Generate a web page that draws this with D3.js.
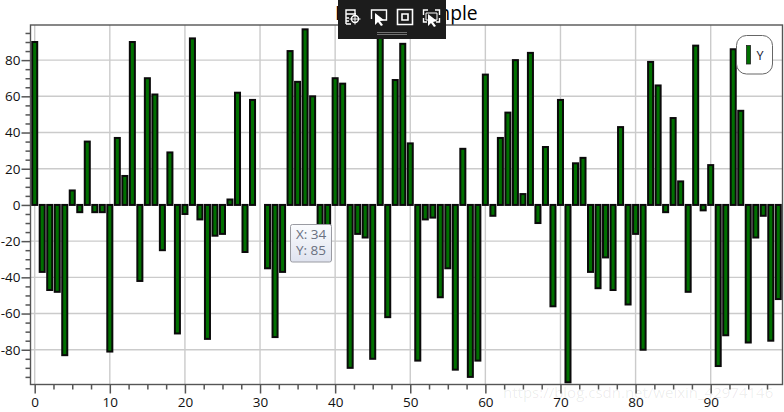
<!DOCTYPE html>
<html><head><meta charset="utf-8">
<script src="https://cdn.jsdelivr.net/npm/d3@7/dist/d3.min.js"></script>
<style>html,body{margin:0;padding:0;background:#fff}svg{display:block}text{font-family:"Open Sans","Noto Sans",sans-serif}</style>
</head><body><svg id="c" width="784" height="412"></svg>
<script>
const titleText = "Bar Plot Sample";
const seriesName = "Y";
const xTicks = [0,10,20,30,40,50,60,70,80,90];
const yTicks = [-80,-60,-40,-20,0,20,40,60,80];
const tooltipLines = ["X: 34","Y: 85"];
const watermark = "https://blog.csdn.net/weixin_42974146";
const values = [90,-37,-47,-48,-83,8,-4,35,-4,-4,
 -81,37,16,90,-42,70,61,-25,29,-71,
 -5,92,-8,-74,-17,-16,3,62,-26,58,
 0,-35,-73,-37,85,68,97,60,-12,-12,
 70,67,-90,-16,-18,-85,98,-62,69,89,
 34,-86,-8,-7,-51,-35,-91,31,-95,-86,
 72,-6,37,51,80,6,84,-10,32,-56,
 58,-98,23,26,-37,-46,-29,-47,43,-55,
 -16,-80,79,66,-4,48,13,-48,88,-3,
 22,-89,-72,86,52,-76,-18,-6,-75,-52];

const svg = d3.select("#c");
const L=30.5,R=782.5,T=25,B=384.5;
const x=d3.scaleLinear().domain([-0.56,99.56]).range([L,R]);
const y=d3.scaleLinear().domain([-99.2,99.4]).range([B,T]);
const grid="#cbcbcb";
// title
svg.append("text").attr("x",335).attr("y",20).attr("font-size",19.3).attr("fill","#000").text(titleText);
// grid
svg.append("g").selectAll("line").data(xTicks).join("line").attr("x1",d=>x(d)).attr("x2",d=>x(d)).attr("y1",T).attr("y2",B).attr("stroke",grid).attr("stroke-width",1.4);
svg.append("g").selectAll("line").data(yTicks.filter(d=>d!==0)).join("line").attr("x1",L).attr("x2",R).attr("y1",d=>y(d)).attr("y2",d=>y(d)).attr("stroke",grid).attr("stroke-width",1.4);
// bars
const barW=x(0.67)-x(0);
svg.append("g").selectAll("rect").data(values.map((v,i)=>({v,i})).filter(d=>d.v!==0)).join("rect")
 .attr("x",d=>x(d.i)-barW/2).attr("width",barW)
 .attr("y",d=>Math.min(y(d.v),y(0))).attr("height",d=>Math.abs(y(d.v)-y(0)))
 .attr("fill","#007000").attr("stroke","#0a0a0a").attr("stroke-width",2);
// axes
const axX=svg.append("g").attr("transform",`translate(0,${B})`).call(d3.axisBottom(x).tickValues(d3.range(0,100,2.5)).tickSize(5).tickFormat(d=>xTicks.includes(d)?d:""));
const axY=svg.append("g").attr("transform",`translate(${L},0)`).call(d3.axisLeft(y).tickValues(d3.range(-95,100,5)).tickSize(5).tickFormat(d=>yTicks.includes(d)?d:""));
[axX,axY].forEach(a=>{a.select(".domain").remove();a.selectAll("line").attr("stroke","#555").attr("stroke-width",1.5);a.selectAll("text").attr("font-size",13.5).attr("fill","#111");});
axX.selectAll(".tick").filter(d=>xTicks.includes(d)).select("line").attr("y2",9);
axY.selectAll(".tick").filter(d=>yTicks.includes(d)).select("line").attr("x2",-9);
axX.selectAll("text").attr("y",13);
axY.selectAll("text").attr("x",-10);
svg.append("rect").attr("x",L).attr("y",T).attr("width",R-L).attr("height",B-T).attr("fill","none").attr("stroke","#555").attr("stroke-width",1.4);
// legend
svg.append("rect").attr("x",736.5).attr("y",35.5).attr("width",36).attr("height",38.5).attr("rx",10).attr("fill","#fff").attr("stroke","#666");
svg.append("rect").attr("x",746.5).attr("y",45.5).attr("width",4).attr("height",18.5).attr("fill","#007000").attr("stroke","#222").attr("stroke-width",.8);
svg.append("text").attr("x",760).attr("y",60).attr("text-anchor","middle").attr("font-size",12.5).attr("fill","#223").text(seriesName);
// tooltip
const gr=svg.append("defs").append("linearGradient").attr("id","tg").attr("x1",0).attr("x2",0).attr("y1",0).attr("y2",1);
gr.append("stop").attr("offset",0).attr("stop-color","#fbfcfe");gr.append("stop").attr("offset",1).attr("stop-color","#dfe3ef");
svg.append("rect").attr("x",290.5).attr("y",224.5).attr("width",41).attr("height",37.5).attr("rx",2).attr("fill","url(#tg)").attr("stroke","#9a9ba2");
svg.append("g").selectAll("text").data(tooltipLines).join("text").attr("x",296).attr("y",(d,i)=>239+i*16).attr("font-size",13.5).attr("fill","#6a7080").text(d=>d);
// watermark
svg.append("text").attr("x",503).attr("y",398).attr("font-size",15).attr("fill","#000").attr("fill-opacity",.08).text(watermark);
// toolbar overlay
const tb=svg.append("g");
tb.append("rect").attr("x",338).attr("y",0).attr("width",108).attr("height",39).attr("fill","#1c1c1c");
const ic=(d,w=1.4)=>tb.append("path").attr("d",d).attr("fill","none").attr("stroke","#fff").attr("stroke-width",w);
ic("M346 24V10H355V14M346 14H356M346 18H349M346 21H349M346 24H351");
tb.append("circle").attr("cx",355).attr("cy",19).attr("r",3.5).attr("fill","none").attr("stroke","#fff").attr("stroke-width",1.4);
ic("M355 13.5V24.5M349.5 19H360.5",1);
ic("M371.5 19V10H386.5V20H380");
tb.append("path").attr("d","M375 13L375 25L378 22L381 26L383 25L380 21L384 20Z").attr("fill","#fff");
ic("M397.5 9.5H412.5V24.5H397.5Z",1.6);
ic("M402 14H408V20H402Z",1.6);
ic("M423.5 15V10H428M435 10H439.5V15M423.5 18V22H427M436 22H439.5V18");
ic("M426 13H437V20H426Z",1);
tb.append("path").attr("d","M428 14L428 26L431 23L434 27L436 26L433 22L437 21Z").attr("fill","#fff");
tb.append("path").attr("d","M377 32.5H407M377 34.5H407").attr("stroke","#888").attr("stroke-width",0.8);
</script></body></html>
